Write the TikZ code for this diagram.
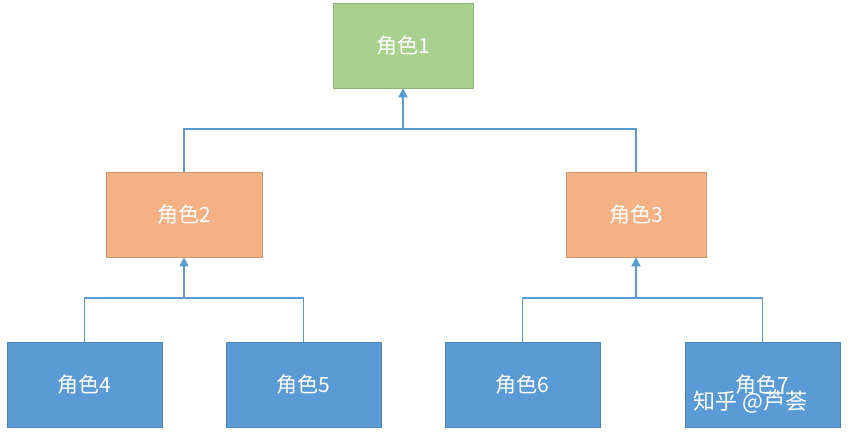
\documentclass[tikz,border=0pt]{standalone}
\usepackage{fontspec}
\setmainfont{Noto Sans CJK SC}
\usetikzlibrary{arrows.meta}
\definecolor{gr}{HTML}{A9D18E}
\definecolor{org}{HTML}{F4B183}
\definecolor{bl}{HTML}{5B9BD5}
\definecolor{ln}{HTML}{5B9BD5}
\begin{document}
\begin{tikzpicture}[x=1pt,y=-1pt,
  box/.style={draw=#1!85!black,line width=0.6pt,fill=#1,minimum height=85pt,inner sep=0pt,text=white,font=\fontsize{21}{24}\selectfont},
  conn/.style={draw=ln,line width=1.6pt},
  arr/.style={conn,-{Triangle[length=9pt,width=9pt]}}]
\useasboundingbox (0,0) rectangle (849,438);
\node[box=gr,minimum width=140pt] (r1) at (403,45.5) {角色1};
\node[box=org,minimum width=156pt] (r2) at (184,214.5) {角色2};
\node[box=org,minimum width=140pt] (r3) at (636,214.5) {角色3};
\node[box=bl,minimum width=155pt] (r4) at (84.5,384.5) {角色4};
\node[box=bl,minimum width=155pt] (r5) at (303.5,384.5) {角色5};
\node[box=bl,minimum width=155pt] (r6) at (522.5,384.5) {角色6};
\node[box=bl,minimum width=155pt] (r7) at (762.5,384.5) {角色7};
\coordinate (j1) at (403,129);
\coordinate (j2) at (184,298);
\coordinate (j3) at (636,298);
\draw[conn] (r2.north) |- (j1) -| (r3.north);
\draw[arr] (j1) -- (r1.south);
\draw[conn] (r4.north) |- (j2) -| (r5.north);
\draw[arr] (j2) -- (r2.south);
\draw[conn] (r6.north) |- (j3) -| (r7.north);
\draw[arr] (j3) -- (r3.south);
\node[text=white,font=\fontsize{22}{24}\selectfont,anchor=west] (wm) at (690,402) {知乎 @芦荟};
\end{tikzpicture}
\end{document}
